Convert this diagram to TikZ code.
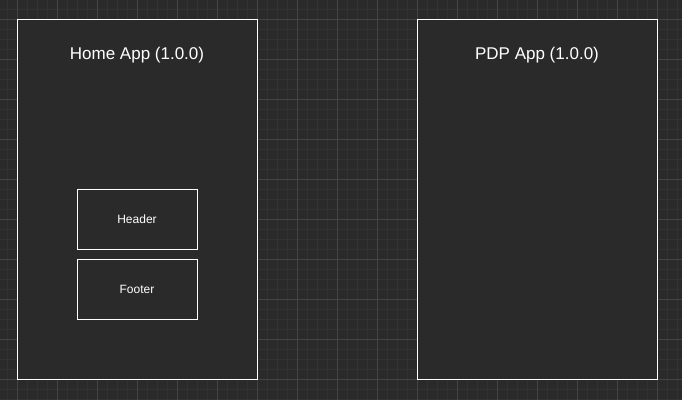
\documentclass[tikz,border=0pt]{standalone}
\usepackage{fontspec}
\setmainfont{Liberation Sans}
\definecolor{bg}{HTML}{2A2A2A}
\definecolor{minorgrid}{HTML}{323232}
\definecolor{majorgrid}{HTML}{444444}
\tikzset{
  appbox/.style={draw=white, fill=bg, line width=1pt, minimum width=240pt, minimum height=360pt, inner sep=0pt},
  partbox/.style={draw=white, fill=bg, line width=1pt, minimum width=120pt, minimum height=60pt, inner sep=0pt, text=white, font=\fontsize{12}{14}\selectfont},
  apptitle/.style={text=white, font=\fontsize{17}{20}\selectfont, inner sep=0pt}
}
\begin{document}
\begin{tikzpicture}[x=1pt,y=-1pt]
\fill[bg] (0,0) rectangle (682,400);
\useasboundingbox (0,0) rectangle (682,400);
\foreach \i in {0,...,68} { \draw[minorgrid, line width=0.6pt] ({7+10*\i},0) -- ({7+10*\i},400); }
\foreach \j in {0,...,39} { \draw[minorgrid, line width=0.6pt] (0,{9+10*\j}) -- (682,{9+10*\j}); }
\foreach \i in {0,...,17} { \draw[majorgrid, line width=0.8pt] ({17+40*\i},0) -- ({17+40*\i},400); }
\foreach \j in {0,...,9} { \draw[majorgrid, line width=0.8pt] (0,{19+40*\j}) -- (682,{19+40*\j}); }
\node[appbox] (home) at (137,199) {};
\node[appbox] (pdp) at (537,199) {};
\node[apptitle] (hometitle) at (137,55.5) {Home App (1.0.0)};
\node[apptitle] (pdptitle) at (537,55.5) {PDP App (1.0.0)};
\node[partbox] (header) at (137,219) {Header};
\node[partbox] (footer) at (137,289) {Footer};
\end{tikzpicture}
\end{document}
